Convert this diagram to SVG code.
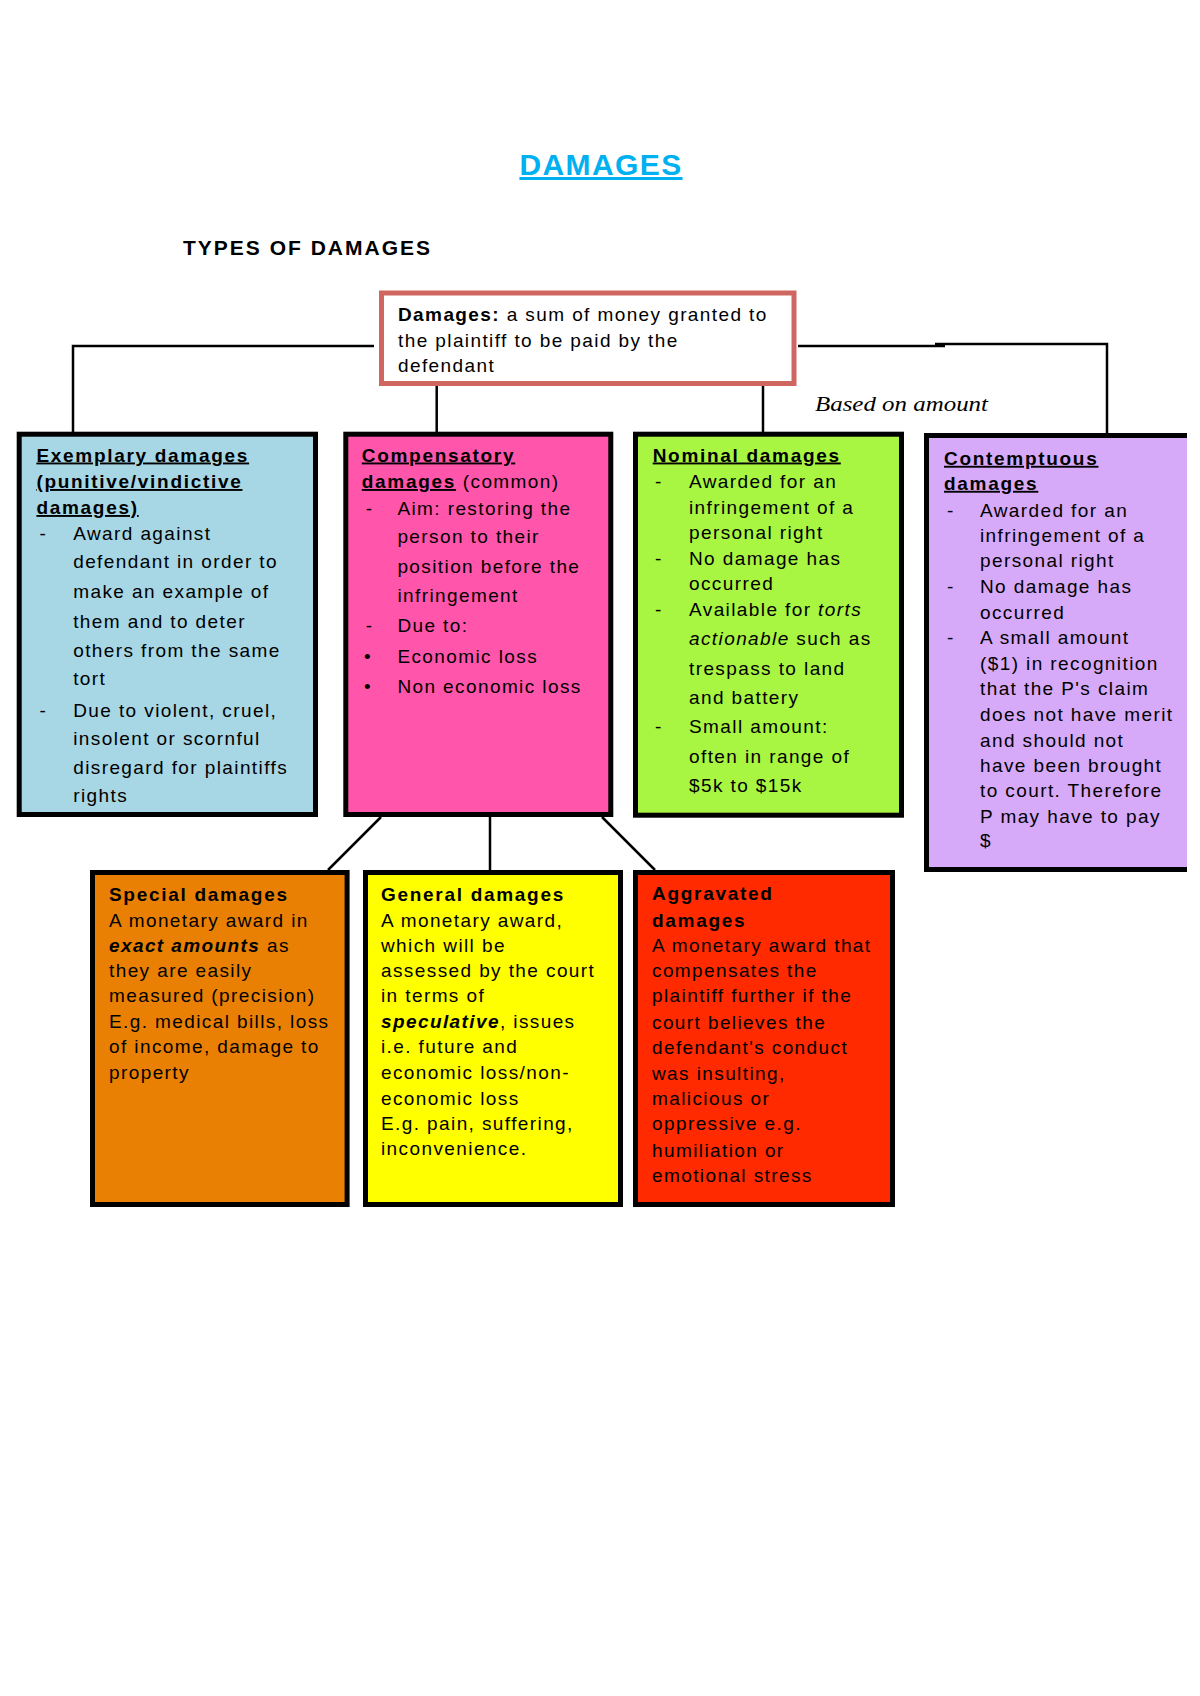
<svg xmlns="http://www.w3.org/2000/svg" width="1200" height="1696" viewBox="0 0 1200 1696">
<style>
text{font-family:"Liberation Sans",Arial,sans-serif;fill:#000}
.b{font-size:19px;letter-spacing:1.4px}
.t{font-size:19px;font-weight:bold;letter-spacing:1.7px}
.u{text-decoration:underline}
.box{stroke:#000;stroke-width:5}
.con{fill:none;stroke:#000;stroke-width:2.5}
.bi{font-weight:bold;font-style:italic}
.i{font-style:italic}
</style>
<rect width="1200" height="1696" fill="#fff"/>
<text x="601" y="175" text-anchor="middle" style="font-size:30px;font-weight:bold;fill:#00B0F0;letter-spacing:1.4px" class="u">DAMAGES</text>
<text x="183" y="255" style="font-size:21px;font-weight:bold;letter-spacing:2px">TYPES OF DAMAGES</text>
<text x="815" y="410.7" textLength="173" lengthAdjust="spacingAndGlyphs" style="font-family:'Liberation Serif','Times New Roman',serif;font-style:italic;font-size:21px">Based on amount</text>

<g id="connectors">
<polyline class="con" points="374,346 73,346 73,434"/>
<line class="con" x1="436.7" y1="386" x2="436.7" y2="434"/>
<line class="con" x1="763" y1="386" x2="763" y2="434"/>
<polyline class="con" points="798,346 945,346"/>
<polyline class="con" points="935,344 1107,344 1107,434"/>
<line class="con" x1="381" y1="817" x2="328" y2="870"/>
<line class="con" x1="490" y1="817" x2="490" y2="870"/>
<line class="con" x1="602" y1="817" x2="655" y2="870"/>
</g>

<g id="root">
<rect x="381.5" y="293" width="412.5" height="90.5" fill="#fff" stroke="#D06660" stroke-width="5"/>
<text class="b" x="398" y="321"><tspan font-weight="bold">Damages:</tspan> a sum of money granted to</text>
<text class="b" x="398" y="346.5">the plaintiff to be paid by the</text>
<text class="b" x="398" y="372">defendant</text>
</g>

<g id="exemplary">
<rect class="box" x="19.2" y="434.2" width="296.3" height="380.3" fill="#A7D6E4"/>
<text class="t u" x="36.4" y="461.5">Exemplary damages</text>
<text class="t u" x="36.4" y="488">(punitive/vindictive</text>
<text class="t u" x="36.4" y="514">damages)</text>
<text class="b" x="39.5" y="539.5">-</text>
<text class="b" x="73.2" y="539.5">Award against</text>
<text class="b" x="73.2" y="568">defendant in order to</text>
<text class="b" x="73.2" y="598">make an example of</text>
<text class="b" x="73.2" y="628">them and to deter</text>
<text class="b" x="73.2" y="656.5">others from the same</text>
<text class="b" x="73.2" y="684.5">tort</text>
<text class="b" x="39.5" y="716.5">-</text>
<text class="b" x="73.2" y="716.5">Due to violent, cruel,</text>
<text class="b" x="73.2" y="744.5">insolent or scornful</text>
<text class="b" x="73.2" y="773.5">disregard for plaintiffs</text>
<text class="b" x="73.2" y="801.5">rights</text>
</g>

<g id="compensatory">
<rect class="box" x="345.8" y="434.2" width="265" height="380.3" fill="#FF55AA"/>
<text class="t u" x="361.8" y="461.5">Compensatory</text>
<text class="b" x="361.8" y="488"><tspan class="t u">damages</tspan> (common)</text>
<text class="b" x="365.7" y="515">-</text>
<text class="b" x="397.4" y="515">Aim: restoring the</text>
<text class="b" x="397.4" y="543">person to their</text>
<text class="b" x="397.4" y="573">position before the</text>
<text class="b" x="397.4" y="601.5">infringement</text>
<text class="b" x="365.7" y="631.5">-</text>
<text class="b" x="397.4" y="631.5">Due to:</text>
<text class="b" x="364" y="662.5">•</text>
<text class="b" x="397.4" y="662.5">Economic loss</text>
<text class="b" x="364" y="692.5">•</text>
<text class="b" x="397.4" y="692.5">Non economic loss</text>
</g>

<g id="nominal">
<rect class="box" x="635.5" y="434.2" width="266" height="381" fill="#A8F542"/>
<text class="t u" x="652.7" y="461.5">Nominal damages</text>
<text class="b" x="655" y="488">-</text>
<text class="b" x="689" y="488">Awarded for an</text>
<text class="b" x="689" y="514">infringement of a</text>
<text class="b" x="689" y="539">personal right</text>
<text class="b" x="655" y="565">-</text>
<text class="b" x="689" y="565">No damage has</text>
<text class="b" x="689" y="590">occurred</text>
<text class="b" x="655" y="616">-</text>
<text class="b" x="689" y="616">Available for <tspan class="i">torts</tspan></text>
<text class="b" x="689" y="645"><tspan class="i">actionable</tspan> such as</text>
<text class="b" x="689" y="675">trespass to land</text>
<text class="b" x="689" y="704">and battery</text>
<text class="b" x="655" y="733">-</text>
<text class="b" x="689" y="733">Small amount:</text>
<text class="b" x="689" y="762.5">often in range of</text>
<text class="b" x="689" y="791.5">$5k to $15k</text>
</g>

<g id="contemptuous">
<path d="M1187,435.5 H926.5 V869.5 H1187 Z" fill="#D7A9F9"/>
<path class="box" fill="none" d="M1187,435.5 H926.5 V869.5 H1187"/>
<text class="t u" x="944" y="464.8">Contemptuous</text>
<text class="t u" x="944" y="489.8">damages</text>
<text class="b" x="947" y="516.5">-</text>
<text class="b" x="980" y="516.5">Awarded for an</text>
<text class="b" x="980" y="541.5">infringement of a</text>
<text class="b" x="980" y="566.5">personal right</text>
<text class="b" x="947" y="593">-</text>
<text class="b" x="980" y="593">No damage has</text>
<text class="b" x="980" y="619">occurred</text>
<text class="b" x="947" y="644">-</text>
<text class="b" x="980" y="644">A small amount</text>
<text class="b" x="980" y="670">($1) in recognition</text>
<text class="b" x="980" y="695">that the P's claim</text>
<text class="b" x="980" y="720.5">does not have merit</text>
<text class="b" x="980" y="746.5">and should not</text>
<text class="b" x="980" y="771.5">have been brought</text>
<text class="b" x="980" y="797">to court. Therefore</text>
<text class="b" x="980" y="822.5">P may have to pay</text>
<text class="b" x="980" y="847">$</text>
</g>

<g id="special">
<rect class="box" x="92.5" y="872.5" width="254.6" height="332" fill="#E98004"/>
<text class="t" x="109" y="900.5">Special damages</text>
<text class="b" x="109" y="926.5">A monetary award in</text>
<text class="b" x="109" y="951.5"><tspan class="bi">exact amounts</tspan> as</text>
<text class="b" x="109" y="977">they are easily</text>
<text class="b" x="109" y="1002">measured (precision)</text>
<text class="b" x="109" y="1028">E.g. medical bills, loss</text>
<text class="b" x="109" y="1053">of income, damage to</text>
<text class="b" x="109" y="1079">property</text>
</g>

<g id="general">
<rect class="box" x="365.5" y="872.5" width="255" height="332" fill="#FFFF00"/>
<text class="t" x="381" y="900.5">General damages</text>
<text class="b" x="381" y="926.5">A monetary award,</text>
<text class="b" x="381" y="951.5">which will be</text>
<text class="b" x="381" y="977">assessed by the court</text>
<text class="b" x="381" y="1002">in terms of</text>
<text class="b" x="381" y="1028"><tspan class="bi">speculative</tspan>, issues</text>
<text class="b" x="381" y="1053">i.e. future and</text>
<text class="b" x="381" y="1079">economic loss/non-</text>
<text class="b" x="381" y="1105">economic loss</text>
<text class="b" x="381" y="1130">E.g. pain, suffering,</text>
<text class="b" x="381" y="1155">inconvenience.</text>
</g>

<g id="aggravated">
<rect class="box" x="635.5" y="872.5" width="257" height="332" fill="#FF2A00"/>
<text class="t" x="652" y="899.5">Aggravated</text>
<text class="t" x="652" y="926.5">damages</text>
<text class="b" x="652" y="951.5">A monetary award that</text>
<text class="b" x="652" y="976.5">compensates the</text>
<text class="b" x="652" y="1001.5">plaintiff further if the</text>
<text class="b" x="652" y="1028.5">court believes the</text>
<text class="b" x="652" y="1053.5">defendant's conduct</text>
<text class="b" x="652" y="1079.5">was insulting,</text>
<text class="b" x="652" y="1104.5">malicious or</text>
<text class="b" x="652" y="1129.5">oppressive e.g.</text>
<text class="b" x="652" y="1156.5">humiliation or</text>
<text class="b" x="652" y="1181.5">emotional stress</text>
</g>
</svg>
